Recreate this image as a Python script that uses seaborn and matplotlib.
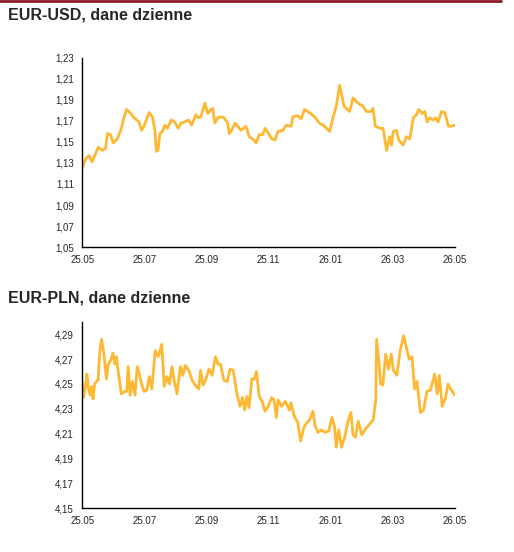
import matplotlib
matplotlib.use("Agg")
import matplotlib.pyplot as plt
import seaborn as sns

usd_m = [0,.11,.22,.32,.43,.52,.65,.75,.81,.91,
         1.0,1.13,1.24,1.35,1.43,1.56,1.67,1.83,1.91,1.99,
         2.15,2.26,2.34,2.39,2.44,2.50,2.58,2.66,2.74,2.87,
         2.98,3.09,3.18,3.30,3.42,3.52,3.66,3.74,3.82,3.95,
         4.04,4.14,4.20,4.27,4.36,4.47,4.57,4.68,4.74,4.81,
         4.92,5.01,5.11,5.27,5.38,5.52,5.60,5.70,5.81,5.89,
         6.0,6.10,6.21,6.30,6.46,6.57,6.73,6.78,6.94,7.05,
         7.16,7.32,7.48,7.64,7.80,7.97,8.07,8.18,8.29,8.34,
         8.43,8.54,8.61,8.72,8.88,9.04,9.15,9.29,9.36,9.44,
         9.58,9.69,9.80,9.90,9.96,10.01,10.12,10.19,10.33,10.44,
         10.55,10.66,10.76,10.84,10.95,11.03,11.11,11.19,11.30,11.38,
         11.46,11.57,11.68,11.79,11.89,12.0]
usd_v = [1.125,1.134,1.137,1.131,1.139,1.145,1.142,1.144,1.158,1.157,
         1.149,1.153,1.161,1.174,1.181,1.177,1.173,1.169,1.161,1.165,
         1.178,1.174,1.161,1.141,1.142,1.158,1.160,1.166,1.163,1.171,
         1.169,1.163,1.168,1.169,1.171,1.166,1.176,1.173,1.174,1.187,
         1.177,1.181,1.182,1.168,1.173,1.174,1.173,1.168,1.158,1.161,
         1.168,1.165,1.161,1.165,1.155,1.152,1.149,1.157,1.157,1.163,
         1.158,1.153,1.152,1.160,1.161,1.166,1.165,1.174,1.175,1.172,
         1.181,1.178,1.174,1.168,1.165,1.160,1.173,1.184,1.204,1.197,
         1.184,1.181,1.179,1.192,1.187,1.184,1.179,1.179,1.182,1.165,
         1.163,1.163,1.142,1.155,1.147,1.160,1.161,1.152,1.147,1.155,
         1.153,1.173,1.176,1.181,1.177,1.179,1.169,1.173,1.171,1.173,
         1.169,1.179,1.178,1.165,1.165,1.166]

pln_m = [0,.04,.11,.15,.21,.26,.31,.35,.40,.45,
         .51,.56,.62,.67,.72,.78,.83,.91,.99,1.05,
         1.10,1.18,1.26,1.37,1.43,1.48,1.54,1.62,1.70,1.77,
         1.84,1.91,1.99,2.08,2.16,2.24,2.35,2.45,2.56,2.64,
         2.72,2.81,2.89,2.96,3.05,3.16,3.24,3.32,3.43,3.54,
         3.64,3.75,3.81,3.89,3.97,4.08,4.18,4.29,4.37,4.45,
         4.56,4.67,4.76,4.86,4.99,5.08,5.16,5.23,5.30,5.37,
         5.46,5.54,5.61,5.70,5.81,5.88,5.99,6.10,6.18,6.25,
         6.31,6.42,6.54,6.67,6.72,6.83,6.94,7.03,7.14,7.24,
         7.32,7.43,7.50,7.59,7.70,7.81,7.94,8.04,8.13,8.18,
         8.26,8.35,8.45,8.56,8.65,8.72,8.80,8.89,9.0,9.16,
         9.37,9.45,9.48,9.56,9.61,9.68,9.77,9.86,9.95,10.02,
         10.13,10.24,10.35,10.45,10.53,10.62,10.70,10.78,10.89,10.99,
         11.10,11.21,11.35,11.43,11.50,11.59,11.70,11.78,11.86,12.0]
pln_v = [4.252,4.239,4.249,4.258,4.245,4.241,4.248,4.238,4.250,4.252,
         4.253,4.275,4.286,4.279,4.269,4.254,4.265,4.269,4.275,4.266,
         4.272,4.256,4.242,4.244,4.244,4.264,4.241,4.252,4.241,4.264,
         4.258,4.250,4.244,4.245,4.256,4.246,4.277,4.272,4.282,4.248,
         4.256,4.250,4.264,4.253,4.242,4.264,4.257,4.265,4.261,4.253,
         4.249,4.246,4.261,4.249,4.253,4.262,4.257,4.272,4.266,4.266,
         4.253,4.252,4.262,4.261,4.241,4.232,4.239,4.229,4.240,4.231,
         4.254,4.254,4.260,4.240,4.235,4.228,4.232,4.239,4.237,4.223,
         4.237,4.232,4.236,4.229,4.235,4.224,4.219,4.204,4.215,4.219,
         4.221,4.228,4.216,4.211,4.213,4.211,4.212,4.223,4.215,4.199,
         4.213,4.199,4.207,4.220,4.227,4.209,4.207,4.220,4.209,4.215,
         4.221,4.237,4.286,4.266,4.250,4.249,4.274,4.262,4.274,4.261,
         4.257,4.277,4.289,4.278,4.270,4.272,4.246,4.252,4.227,4.229,
         4.244,4.245,4.258,4.242,4.257,4.232,4.239,4.250,4.246,4.241]

tick_pos = [0, 2, 4, 6, 8, 10, 12]
tick_labels = ["25.05", "25.07", "25.09", "25.11", "26.01", "26.03", "26.05"]
usd_ticks = [1.05, 1.07, 1.09, 1.11, 1.13, 1.15, 1.17, 1.19, 1.21, 1.23]
pln_ticks = [4.15, 4.17, 4.19, 4.21, 4.23, 4.25, 4.27, 4.29]

sns.set_style("white")
plt.rcParams["font.family"] = ["Liberation Sans", "DejaVu Sans"]

fig = plt.figure(figsize=(5.14, 5.52), dpi=100)
fig.add_artist(plt.Line2D([0, 0.975], [0.998, 0.998], color="#8B1A2B", lw=2))
color = "#FDB933"

def panel(rect, m, v, ticks, ylim, title, ty):
    ax = fig.add_axes(rect)
    sns.lineplot(x=m, y=v, ax=ax, color=color, lw=2)
    ax.set_xlim(0, 12)
    ax.set_ylim(*ylim)
    ax.set_xticks(tick_pos)
    ax.set_xticklabels(tick_labels)
    ax.set_yticks(ticks)
    ax.set_yticklabels([f"{t:.2f}".replace(".", ",") for t in ticks])
    ax.tick_params(labelsize=7, length=0, pad=6)
    for s in ["top", "right"]:
        ax.spines[s].set_visible(False)
    for s in ["left", "bottom"]:
        ax.spines[s].set_color("black")
        ax.spines[s].set_linewidth(1)
    fig.text(8/514, ty, title, fontsize=11.5, fontweight="bold", va="center", ha="left")
    return ax

panel([0.160, 0.5525, 0.725, 0.3425], usd_m, usd_v, usd_ticks, (1.05, 1.23), "EUR-USD, dane dzienne", 1 - 15/552)
panel([0.160, 0.0797, 0.725, 0.337], pln_m, pln_v, pln_ticks, (4.15, 4.30), "EUR-PLN, dane dzienne", 1 - 298/552)

fig.savefig("out.png", dpi=100)
